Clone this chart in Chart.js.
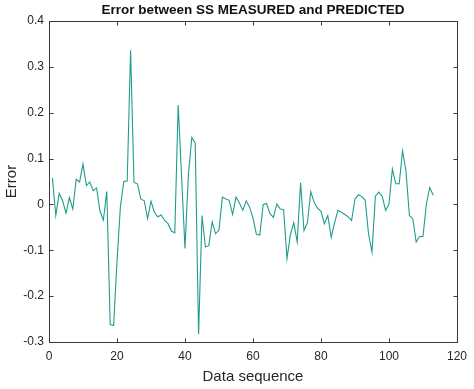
<!DOCTYPE html>
<html>
<head>
<meta charset="utf-8">
<script src="https://cdn.jsdelivr.net/npm/chart.js@4/dist/chart.umd.min.js"></script>
<style>
  html, body { margin: 0; padding: 0; background: #ffffff; }
  #wrap { width: 474px; height: 389px; }
</style>
</head>
<body>
<div id="wrap"><canvas id="c" width="474" height="389"></canvas></div>
<script>
// ---- Data ----
const chartTitle = 'Error between SS MEASURED and PREDICTED';
const xAxisTitle = 'Data sequence';
const yAxisTitle = 'Error';
const xTickValues = [0, 20, 40, 60, 80, 100, 120];
const yTickValues = [-0.3, -0.2, -0.1, 0, 0.1, 0.2, 0.3, 0.4];

const errorValues = [
  0.058, -0.024, 0.024, 0.008, -0.019, 0.015, -0.010, 0.055, 0.049, 0.088,
  0.041, 0.049, 0.030, 0.036, -0.015, -0.034, 0.028, -0.262, -0.264, -0.125,
  -0.005, 0.050, 0.051, 0.336, 0.048, 0.045, 0.012, 0.008, -0.031, 0.007,
  -0.017, -0.027, -0.023, -0.035, -0.042, -0.058, -0.062, 0.217, 0.060, -0.096,
  0.065, 0.146, 0.134, -0.283, -0.024, -0.093, -0.090, -0.038, -0.064, -0.056,
  0.016, 0.012, 0.009, -0.022, 0.016, 0.003, -0.013, 0.008, -0.006, -0.030,
  -0.065, -0.067, 0.000, 0.002, -0.020, -0.028, 0.001, -0.010, -0.011, -0.118,
  -0.066, -0.040, -0.082, 0.047, -0.057, -0.040, 0.028, 0.004, -0.008, -0.015,
  -0.042, -0.024, -0.072, -0.040, -0.013, -0.017, -0.022, -0.027, -0.035, 0.012,
  0.021, 0.017, 0.009, -0.065, -0.104, 0.018, 0.027, 0.018, -0.013, 0.001,
  0.077, 0.045, 0.045, 0.117, 0.073, -0.024, -0.031, -0.082, -0.070, -0.070,
  0.001, 0.037, 0.020
];
// sample index (data sequence number) for each error value
const sequenceIndex = errorValues.map((_, i) => i + 1);

const points = sequenceIndex.map((s, i) => ({ x: s, y: errorValues[i] }));

const axisColor = '#3a3a3a';
const textColor = '#262626';
const fontFamily = '"Liberation Sans", Arial, Helvetica, sans-serif';

// Title centred over the plot box, frame + inward ticks (MATLAB style box)
const boxPlugin = {
  id: 'matlabBox',
  afterDatasetsDraw(chart) {
    const { ctx, chartArea: a, scales } = chart;
    ctx.save();
    ctx.strokeStyle = axisColor;
    ctx.lineWidth = 1;
    const L = Math.round(a.left) + 0.5, R = Math.round(a.right) + 0.5;
    const T = Math.round(a.top) + 0.5, B = Math.round(a.bottom) + 0.5;
    ctx.strokeRect(L, T, R - L, B - T);
    const len = 4;
    ctx.beginPath();
    scales.x.ticks.forEach(t => {
      const px = Math.round(scales.x.getPixelForValue(t.value)) + 0.5;
      ctx.moveTo(px, B); ctx.lineTo(px, B - len);
      ctx.moveTo(px, T); ctx.lineTo(px, T + len);
    });
    scales.y.ticks.forEach(t => {
      const py = Math.round(scales.y.getPixelForValue(t.value)) + 0.5;
      ctx.moveTo(L, py); ctx.lineTo(L + len, py);
      ctx.moveTo(R, py); ctx.lineTo(R - len, py);
    });
    ctx.stroke();

    ctx.fillStyle = '#111111';
    ctx.font = 'bold 13.5px ' + fontFamily;
    ctx.textAlign = 'center';
    ctx.textBaseline = 'middle';
    ctx.fillText(chartTitle, (a.left + a.right) / 2, 10);
    ctx.restore();
  }
};

new Chart(document.getElementById('c'), {
  type: 'line',
  data: {
    datasets: [{
      data: points,
      borderColor: '#1f9c8c',
      borderWidth: 1.1,
      pointRadius: 0,
      tension: 0,
      fill: false
    }]
  },
  options: {
    responsive: false,
    animation: false,
    devicePixelRatio: 1,
    layout: { padding: { left: 0, right: 17, top: 21, bottom: 0 } },
    plugins: {
      legend: { display: false },
      tooltip: { enabled: false },
      title: { display: false }
    },
    scales: {
      x: {
        type: 'linear',
        min: 0, max: 120,
        afterBuildTicks: s => { s.ticks = xTickValues.map(v => ({ value: v })); },
        afterFit: s => { s.height = 47; },
        grid: { display: false, drawTicks: false },
        border: { display: false },
        ticks: {
          color: textColor,
          padding: 7,
          maxRotation: 0,
          font: { family: fontFamily, size: 12 },
          callback: v => String(v)
        },
        title: {
          display: true,
          text: xAxisTitle,
          color: textColor,
          font: { family: fontFamily, size: 15 },
          padding: { top: 0, bottom: 3 }
        }
      },
      y: {
        type: 'linear',
        min: -0.3, max: 0.4,
        afterBuildTicks: s => { s.ticks = yTickValues.map(v => ({ value: v })); },
        afterFit: s => { s.width = 49; },
        grid: { display: false, drawTicks: false },
        border: { display: false },
        ticks: {
          color: textColor,
          padding: 5,
          font: { family: fontFamily, size: 12 },
          callback: v => String(+v.toFixed(1))
        },
        title: {
          display: true,
          text: yAxisTitle,
          color: textColor,
          font: { family: fontFamily, size: 15 },
          padding: { top: 3, bottom: 0 }
        }
      }
    }
  },
  plugins: [boxPlugin]
});
</script>
</body>
</html>
